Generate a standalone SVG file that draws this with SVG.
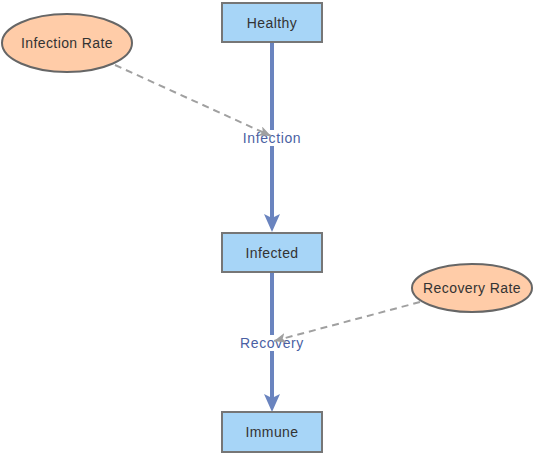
<svg xmlns="http://www.w3.org/2000/svg" width="534" height="454" viewBox="0 0 534 454">
<style>
.box{fill:#a7d5f7;stroke:#767676;stroke-width:2}
.ell{fill:#ffcca8;stroke:#666;stroke-width:2}
.t{font-family:"Comic Sans MS","Liberation Sans",sans-serif;font-size:14px;letter-spacing:0.4px;fill:#333;text-anchor:middle;dominant-baseline:central}
.lbl{font-family:"Comic Sans MS","Liberation Sans",sans-serif;font-size:14px;letter-spacing:0.6px;fill:#4a5fa3;text-anchor:middle;dominant-baseline:central}
.flow{stroke:#6a84bf;stroke-width:4;fill:none}
.dash{stroke:#a0a0a0;stroke-width:2;stroke-dasharray:7 5;fill:none}
</style>
<defs>
<marker id="da" markerUnits="userSpaceOnUse" viewBox="0 0 12 10" refX="12" refY="5" markerWidth="12" markerHeight="10" orient="auto">
<path d="M0,0 L12,5 L0,10 L3,5 Z" fill="#a0a0a0"/>
</marker>
</defs>
<g id="connectors">
<line class="flow" x1="272" y1="42" x2="272" y2="218"/>
<path d="M264,214 L272,232 L280,214 L272,218 Z" fill="#6a84bf"/>
<line class="flow" x1="272" y1="272" x2="272" y2="398"/>
<path d="M264,394 L272,412 L280,394 L272,398 Z" fill="#6a84bf"/>
<rect x="238" y="130" width="68" height="16" fill="#fff"/>
<text class="lbl" x="272" y="138">Infection</text>
<rect x="238" y="335" width="68" height="16" fill="#fff"/>
<text class="lbl" x="272" y="343">Recovery</text>
<line class="dash" x1="115" y1="65" x2="271" y2="136" marker-end="url(#da)"/>
<line class="dash" x1="420" y1="302" x2="274" y2="341" marker-end="url(#da)"/>
</g>
<g id="healthy"><rect class="box" x="222" y="3" width="100" height="39"/><text class="t" x="272" y="23">Healthy</text></g>
<g id="infected"><rect class="box" x="222" y="233" width="100" height="39"/><text class="t" x="272" y="253">Infected</text></g>
<g id="immune"><rect class="box" x="222" y="412" width="100" height="40"/><text class="t" x="272" y="432">Immune</text></g>
<g id="infection-rate"><ellipse class="ell" cx="67" cy="43" rx="65" ry="29"/><text class="t" x="67" y="43">Infection Rate</text></g>
<g id="recovery-rate"><ellipse class="ell" cx="472" cy="288" rx="60" ry="24"/><text class="t" x="472" y="288">Recovery Rate</text></g>
</svg>
